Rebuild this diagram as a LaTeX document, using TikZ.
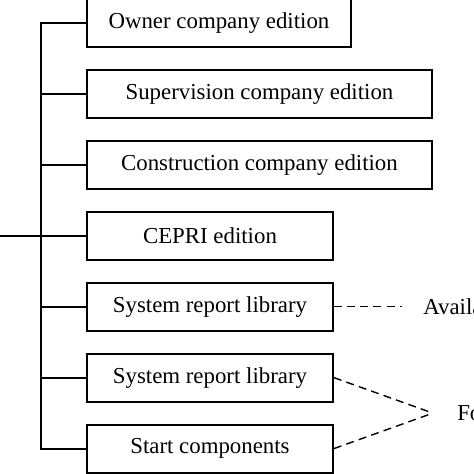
\documentclass[tikz,border=0pt]{standalone}
\usepackage{fontspec}
\setmainfont{Liberation Serif}
\usetikzlibrary{calc,positioning}
\begin{document}
\begin{tikzpicture}
\tikzset{edition/.style={shape=rectangle,draw,line width=1.1pt,minimum height=0.96cm,inner sep=0pt,font=\fontsize{13}{15}\selectfont}}
\tikzset{remark/.style={shape=rectangle,inner xsep=0.42cm,inner ysep=0pt,font=\fontsize{13}{15}\selectfont}}
\tikzset{link/.style={line width=0.8pt,dash pattern=on 4.5pt off 3pt}}
\def\ygap{0.42cm}
\def\trunk{0.9cm}
%
\useasboundingbox (0cm,0cm) rectangle (9.48cm,9.48cm);
\coordinate (left) at (0cm,0cm);
\node at (1.72cm,9.02cm) [edition,anchor=west,minimum width=5.28cm] (owner) {Owner company edition};
\node [edition,below right=\ygap and 0cm of owner.south west,minimum width=6.9cm] (supervision) {Supervision company edition};
\node [edition,below right=\ygap and 0cm of supervision.south west,minimum width=6.9cm] (construction) {Construction company edition};
\node [edition,below right=\ygap and 0cm of construction.south west,minimum width=4.92cm] (cepri) {CEPRI edition};
\node [edition,below right=\ygap and 0cm of cepri.south west,minimum width=4.92cm] (report1) {System report library};
\node [edition,below right=\ygap and 0cm of report1.south west,minimum width=4.92cm] (report2) {System report library};
\node [edition,below right=\ygap and 0cm of report2.south west,minimum width=4.92cm] (start) {Start components};
%
\coordinate (top) at ($(owner.west)+(-\trunk,0)$);
\coordinate (root) at (cepri.west -| left);
\draw[line width=1.1pt] (owner.west) -- (top) |- (start.west);
\foreach \n in {supervision,construction,report1,report2} \draw[line width=1.1pt] (\n.west) -- (\n.west -| top);
\draw[line width=1.1pt] (root) -- (cepri.west);
%
\node [remark,right=1.36cm of report1.east,anchor=west] (avail) {Available};
\node [remark,inner xsep=0.48cm,anchor=west] at ($(report2.east)!0.5!(start.east)+(1.98cm,0)$) (for) {For};
\draw[link] (report1.east) -- (avail.west);
\draw[link] (report2.east) -- (for.west);
\draw[link] (start.east) -- (for.west);
\end{tikzpicture}
\end{document}
